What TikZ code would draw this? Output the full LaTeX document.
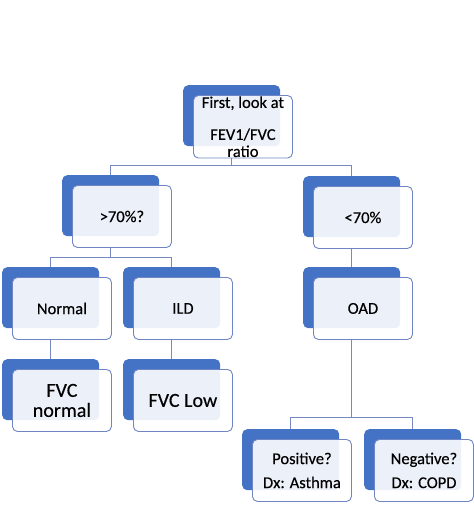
\documentclass[tikz,border=0pt]{standalone}
\usepackage{fontspec}
\setmainfont[FakeBold=0.4]{Carlito}
\usetikzlibrary{positioning}
\definecolor{boxblue}{RGB}{68,114,196}
\definecolor{rimblue}{RGB}{112,134,196}
\definecolor{linkblue}{RGB}{118,138,192}
\tikzset{
  backbox/.style={draw=none, fill=boxblue, rounded corners=5pt, minimum width=97pt,
    minimum height=61pt, anchor=north west, inner sep=0pt},
  frontbox/.style={draw=rimblue, line width=0.9pt, fill=white, fill opacity=0.9,
    text opacity=1, rounded corners=5pt, minimum width=99pt, minimum height=62pt,
    anchor=north west, align=center, inner sep=1pt, font=\fontsize{16.5}{20}\selectfont},
  bigtext/.style={font=\fontsize{20}{20}\selectfont},
  link/.style={draw=linkblue, line width=0.9pt}
}
% back (blue) box and front box of one step
\newcommand{\flowbox}[5][]{%
  \node[backbox] (#2-b) at (#3,#4) {};
  \node[frontbox,#1] (#2) at ([shift={(10pt,-10pt)}]#2-b.north west) {#5};
}
\begin{document}
\begin{tikzpicture}[x=1pt,y=-1pt]
\useasboundingbox (0,0) rectangle (474,515);

\flowbox{top}{183}{85}{First, look at\\[12pt]FEV1/FVC\\[-3pt]ratio}
\flowbox{gt}{62}{175}{>70\%?}
\flowbox{lt}{303}{176}{<70\%}
\flowbox{normal}{2}{267}{Normal}
\flowbox{ild}{123}{267}{ILD}
\flowbox{oad}{303}{267}{OAD}
\flowbox[bigtext]{fvcn}{2}{359}{FVC\\normal}
\flowbox[bigtext]{fvcl}{123}{359}{FVC Low}
\flowbox{pos}{242}{429}{Positive?\\[4pt]Dx: Asthma}
\flowbox{neg}{364}{429}{Negative?\\[4pt]Dx: COPD}

% connectors
\draw[link] (top-b |- top.south) -- ++(0,7) -| (gt-b.north);
\draw[link] (top-b |- top.south) -- ++(0,7) -| (lt-b.north);
\draw[link] (gt-b |- gt.south) -- ++(0,10) -| (normal-b.north);
\draw[link] (gt-b |- gt.south) -- ++(0,10) -| (ild-b.north);
\draw[link] (lt-b |- lt.south) -- (oad-b.north);
\draw[link] (normal-b |- normal.south) -- (fvcn-b.north);
\draw[link] (ild-b |- ild.south) -- (fvcl-b.north);
\draw[link] (oad-b |- oad.south) -- ++(0,78) -| (pos-b.north);
\draw[link] (oad-b |- oad.south) -- ++(0,78) -| (neg-b.north);
\end{tikzpicture}
\end{document}
